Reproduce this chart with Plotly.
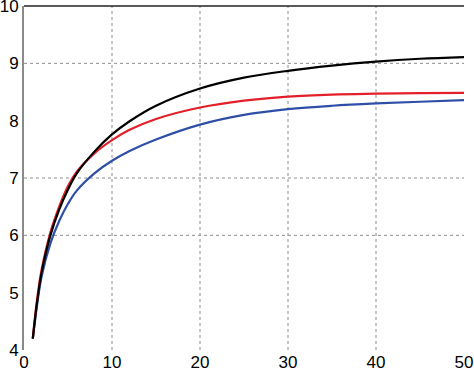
import plotly.graph_objects as go

x = [1, 1.5, 2, 3, 4, 5, 6, 8, 10, 12, 15, 20, 25, 30, 35, 40, 45, 50]
black = [4.2, 4.85, 5.35, 6.0, 6.45, 6.8, 7.08, 7.46, 7.76, 7.99, 8.26, 8.56, 8.75, 8.87, 8.96, 9.03, 9.08, 9.11]
red = [4.2, 4.9, 5.4, 6.05, 6.5, 6.86, 7.11, 7.43, 7.66, 7.84, 8.03, 8.23, 8.35, 8.42, 8.455, 8.47, 8.48, 8.485]
blue = [4.2, 4.8, 5.28, 5.86, 6.25, 6.55, 6.78, 7.08, 7.3, 7.47, 7.67, 7.93, 8.1, 8.2, 8.26, 8.3, 8.33, 8.36]

x_ticks = [0, 10, 20, 30, 40, 50]
y_ticks = [4, 5, 6, 7, 8, 9, 10]
x_grid = [10, 20, 30, 40]
y_grid = [6, 7, 9]

fig = go.Figure()
for ys, col in [(blue, "#2f4fa6"), (red, "#e3202a"), (black, "#000000")]:
    fig.add_trace(go.Scatter(x=x, y=ys, mode="lines",
                             line=dict(color=col, width=2.2, shape="spline", smoothing=1.0),
                             showlegend=False, cliponaxis=False))

shapes = []
for gx in x_grid:
    shapes.append(dict(type="line", xref="x", yref="paper", x0=gx, x1=gx, y0=0, y1=1,
                       line=dict(color="#8c8c8c", width=1, dash="dot"), layer="below"))
for gy in y_grid:
    shapes.append(dict(type="line", xref="paper", yref="y", x0=0, x1=1, y0=gy, y1=gy,
                       line=dict(color="#8c8c8c", width=1, dash="dot"), layer="below"))
# top border
shapes.append(dict(type="line", xref="paper", yref="paper", x0=0, x1=1, y0=1, y1=1,
                   line=dict(color="#222222", width=1.5)))

fig.update_layout(
    width=474, height=374,
    margin=dict(l=24, r=10, t=6, b=24, autoexpand=False),
    paper_bgcolor="white", plot_bgcolor="white",
    font=dict(family="Liberation Sans, Arial, sans-serif", size=17, color="black"),
    shapes=shapes,
    xaxis=dict(range=[0, 50], tickvals=x_ticks, ticktext=[str(v) for v in x_ticks],
               showgrid=False, zeroline=False, showline=False, ticks="", ticklen=0,
               automargin=False, ticklabeloverflow="allow"),
    yaxis=dict(range=[4, 10], tickvals=y_ticks, ticktext=[str(v) for v in y_ticks],
               showgrid=False, zeroline=False, showline=True, linecolor="#8a8a8a",
               linewidth=2, ticks="", ticklen=0, automargin=False,
               ticklabeloverflow="allow"),
)

fig.write_html("out.html", config={"displayModeBar": False},
               post_script="document.body.style.margin='0';document.body.style.overflow='hidden';")
